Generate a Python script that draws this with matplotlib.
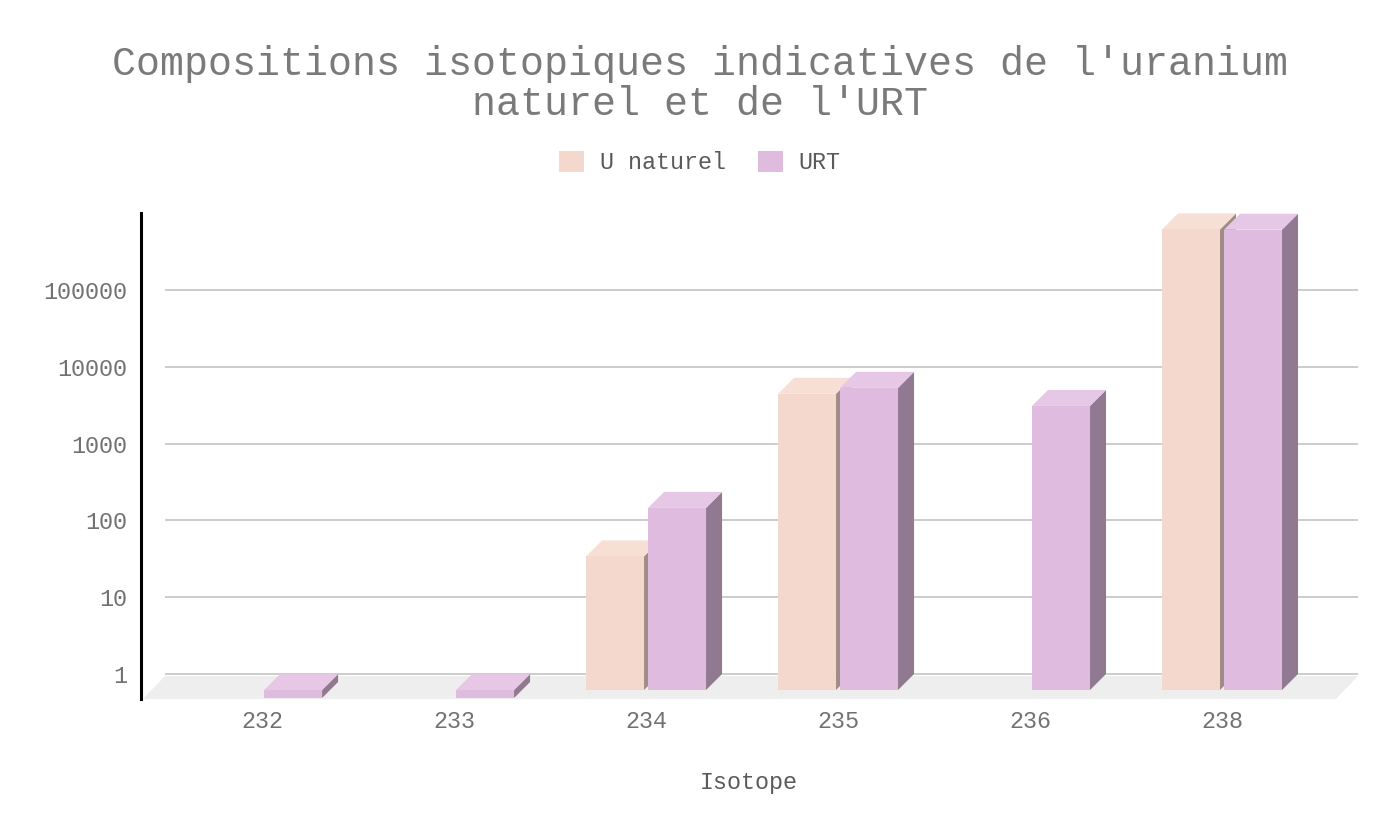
import numpy as np
import matplotlib.pyplot as plt
from matplotlib.patches import Polygon, Patch
from matplotlib.lines import Line2D
from matplotlib.transforms import IdentityTransform

plt.rcParams['font.family'] = ['Liberation Mono', 'DejaVu Sans Mono']

# values in ppm (0 = no bar)
isotopes = ['232', '233', '234', '235', '236', '238']
u_naturel = [0, 0, 55, 7200, 0, 992745]
urt = [1e-4, 1e-4, 235, 8600, 5000, 985000]
series_names = ['U naturel', 'URT']
y_ticks = [1, 10, 100, 1000, 10000, 100000]
title_lines = ["Compositions isotopiques indicatives de l'uranium", "naturel et de l'URT"]

front_col = ['#f5d8cd', '#dfbbdf']
top_col = ['#f7dfd6', '#e6c8e6']
side_col = ['#a08c84', '#917a91']

W, H = 1400, 836
DEPTH = 16      # px, bar depth
BASE = 1.0      # log axis base value for the columns

fig = plt.figure(figsize=(W / 100, H / 100), dpi=100)
ax = fig.add_axes([165 / W, 1 - 682 / H, (1358 - 165) / W, (682 - 198) / H])
ax.set_yscale('log')
ax.set_xlim(-0.589, 5.625)
ax.set_ylim(0.787, 1.578e6)
ax.set_axisbelow(True)
for s in ax.spines.values():
    s.set_visible(False)
ax.grid(axis='y', color='#cccccc', linewidth=1.4)
ax.set_yticks(y_ticks)
ax.set_yticklabels([str(t) for t in y_ticks])
ax.minorticks_off()
ax.tick_params(axis='y', length=0, pad=27, labelsize=16.8, labelcolor='#727272')

px_per_x = ax.bbox.width / (ax.get_xlim()[1] - ax.get_xlim()[0])
dx = DEPTH / px_per_x
ax.set_xticks(np.arange(len(isotopes)) - dx)
ax.set_xticklabels(isotopes)
ax.tick_params(axis='x', length=0, pad=20, labelsize=16.8, labelcolor='#727272')


def px(x, y):
    return ax.transData.transform((x, y))


def add_poly(pts, color, z):
    ax.add_patch(Polygon(pts, closed=True, facecolor=color, edgecolor='none',
                         transform=IdentityTransform(), clip_on=False, zorder=z))


# floor
ymin = ax.get_ylim()[0]
(fl_x0, fl_y), (fl_x1, _) = px(ax.get_xlim()[0], 0.942), px(ax.get_xlim()[1], 0.942)
add_poly([(fl_x0, fl_y), (fl_x1, fl_y), (fl_x1 - 22, fl_y - 23), (fl_x0 - 22, fl_y - 23)],
         '#eeeeee', 0.6)


def draw_bar(x0, x1, value, k, z):
    hi = max(value, BASE)
    lo = max(min(value, BASE), ymin)
    (bx0, blo), (bx1, bhi) = px(x0, lo), px(x1, hi)
    fx0, fx1, flo, fhi = bx0 - DEPTH, bx1 - DEPTH, blo - DEPTH, bhi - DEPTH
    add_poly([(fx1, flo), (bx1, blo), (bx1, bhi), (fx1, fhi)], side_col[k], z)
    add_poly([(fx0, fhi), (fx1, fhi), (bx1, bhi), (bx0, bhi)], top_col[k], z)
    add_poly([(fx0, flo), (fx1, flo), (fx1, fhi), (fx0, fhi)], front_col[k], z)


bar_w = 58 / px_per_x
gap = 2 / px_per_x
z = 2
for i in range(len(isotopes)):
    for k, vals in enumerate([u_naturel, urt]):
        if vals[i] <= 0:
            continue
        if k == 0:
            draw_bar(i - gap - bar_w, i - gap, vals[i], k, z)
        else:
            draw_bar(i + gap, i + gap + bar_w, vals[i], k, z)
        z += 0.01

# value axis line at the front
(ax_l, ax_b), (_, ax_t) = ax.transAxes.transform((0, 0)), ax.transAxes.transform((0, 1))
fig.add_artist(Line2D([ax_l - 24, ax_l - 24], [fl_y - 23, ax_t - 15], color='black',
                      linewidth=2.2, transform=IdentityTransform()))

for line, base_y in zip(title_lines, [75, 115]):
    fig.text(0.5, 1 - base_y / H, line, ha='center', va='baseline', fontsize=28.8, color='#7a7a7a')
fig.text(749 / W, 1 - 782 / H, 'Isotope', ha='center', va='center', fontsize=16.8, color='#5a5a5a')

handles = [Patch(facecolor=c, edgecolor='none') for c in front_col]
fig.legend(handles, series_names, loc='center', bbox_to_anchor=(0.5, 1 - 162.5 / H), ncol=2,
           frameon=False, fontsize=16.8, labelcolor='#5a5a5a', handlelength=1.05, handleheight=1.05,
           handletextpad=0.68, columnspacing=1.4)

fig.savefig('out.png', dpi=100)
